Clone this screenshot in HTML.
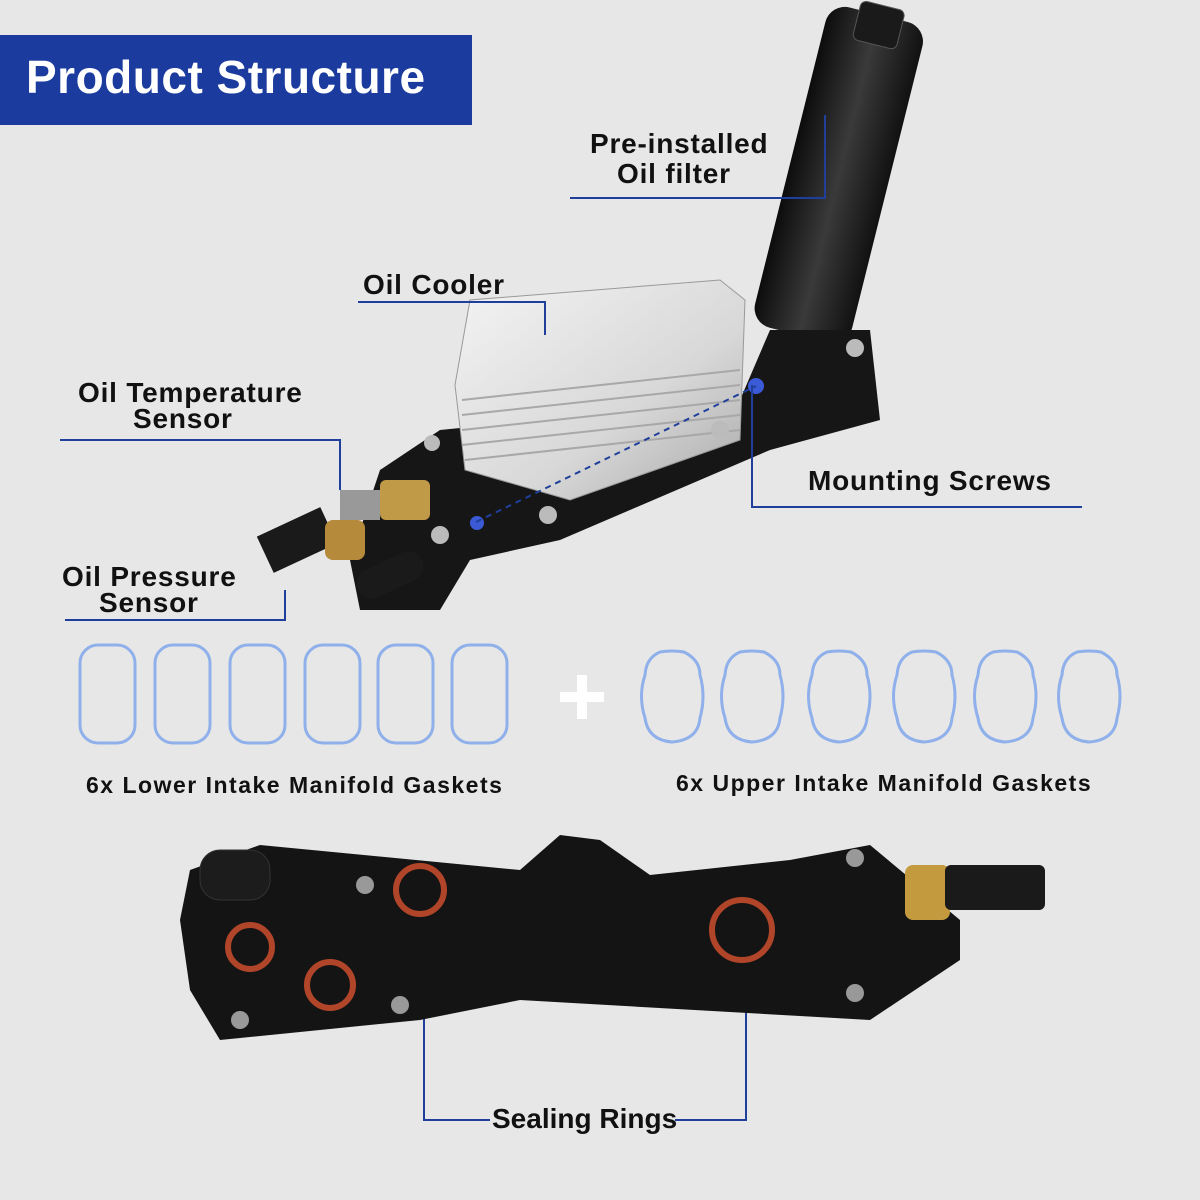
<!DOCTYPE html>
<html><head><meta charset="utf-8"><style>
html,body{margin:0;padding:0;}
body{width:1200px;height:1200px;background:#e6e6e6;overflow:hidden;position:relative;font-family:"Liberation Sans",Arial,sans-serif;}
svg{position:absolute;left:0;top:0;}
</style></head><body>
<svg width="1200" height="1200" viewBox="0 0 1200 1200">
<defs>
<linearGradient id="cyl" x1="0" x2="1" y1="0" y2="0">
<stop offset="0" stop-color="#0c0c0c"/><stop offset="0.5" stop-color="#3a3a3a"/><stop offset="1" stop-color="#111"/></linearGradient>
<linearGradient id="alu" x1="0" x2="1" y1="0" y2="1">
<stop offset="0" stop-color="#f4f4f4"/><stop offset="0.6" stop-color="#d8d8d8"/><stop offset="1" stop-color="#a8a8a8"/></linearGradient>
</defs>
<rect width="1200" height="1200" fill="#e7e7e7"/>
<rect x="0" y="35" width="472" height="90" fill="#1b3b9e"/>
<text x="26" y="93" font-size="46" font-weight="bold" fill="#fff" letter-spacing="0.5" font-family="Liberation Sans,sans-serif">Product Structure</text>

<g transform="rotate(14 840 170)">
<rect x="790" y="10" width="100" height="330" rx="20" fill="url(#cyl)"/>
<rect x="820" y="0" width="45" height="40" rx="6" fill="#1a1a1a" stroke="#555"/>
</g>
<path d="M380 470 L440 430 L740 400 L770 330 L870 330 L880 420 L770 450 L560 540 L470 560 L440 610 L360 610 L350 560 Z" fill="#161616"/>
<path d="M455 385 L470 300 L720 280 L745 300 L740 440 L570 500 L465 470 Z" fill="url(#alu)" stroke="#999"/>
<g stroke="#a8a8a8" stroke-width="2">
<line x1="462" y1="400" x2="740" y2="370"/><line x1="462" y1="415" x2="740" y2="385"/><line x1="462" y1="430" x2="740" y2="400"/><line x1="462" y1="445" x2="740" y2="415"/><line x1="465" y1="460" x2="740" y2="430"/></g>
<rect x="262" y="520" width="70" height="40" fill="#1a1a1a" transform="rotate(-25 297 540)"/>
<rect x="325" y="520" width="40" height="40" rx="8" fill="#b58a3a"/>
<rect x="380" y="480" width="50" height="40" rx="6" fill="#c19a48"/>
<rect x="340" y="490" width="40" height="30" fill="#999"/>
<rect x="355" y="560" width="70" height="30" rx="14" fill="#1a1a1a" transform="rotate(-25 390 575)"/>
<g fill="#bbb"><circle cx="548" cy="515" r="9"/><circle cx="720" cy="430" r="9"/><circle cx="855" cy="348" r="9"/><circle cx="432" cy="443" r="8"/><circle cx="440" cy="535" r="9"/></g>
<circle cx="756" cy="386" r="8" fill="#3b5ad6"/><circle cx="477" cy="523" r="7" fill="#3b5ad6"/>

<g stroke="#1f3f9a" stroke-width="2" fill="none">
<polyline points="570,198 825,198 825,115"/>
<polyline points="358,302 545,302 545,335"/>
<polyline points="60,440 340,440 340,490"/>
<polyline points="752,385 752,507 1082,507"/>
<polyline points="65,620 285,620 285,590"/>
<polyline points="424,880 424,1120 490,1120"/>
<polyline points="675,1120 746,1120 746,930"/>
</g>
<line x1="476" y1="522" x2="756" y2="386" stroke="#1f3f9a" stroke-width="2" stroke-dasharray="6,5"/>

<g font-size="28" font-weight="bold" fill="#111" letter-spacing="0.8" font-family="Liberation Sans,sans-serif">
<text x="590" y="153">Pre-installed</text><text x="617" y="183">Oil filter</text>
<text x="363" y="294">Oil Cooler</text>
<text x="78" y="402">Oil Temperature</text><text x="133" y="428">Sensor</text>
<text x="808" y="490">Mounting Screws</text>
<text x="62" y="586">Oil Pressure</text><text x="99" y="612">Sensor</text>
<text x="492" y="1128" letter-spacing="0">Sealing Rings</text>
</g>
<g font-size="23" font-weight="bold" fill="#111" letter-spacing="1.5" font-family="Liberation Sans,sans-serif">
<text x="86" y="793">6x Lower Intake Manifold Gaskets</text>
<text x="676" y="791">6x Upper Intake Manifold Gaskets</text>
</g>

<g fill="none" stroke="#8fb0ea" stroke-width="3">
<rect x="80" y="645" width="55" height="98" rx="18"/>
<rect x="155" y="645" width="55" height="98" rx="18"/>
<rect x="230" y="645" width="55" height="98" rx="18"/>
<rect x="305" y="645" width="55" height="98" rx="18"/>
<rect x="378" y="645" width="55" height="98" rx="18"/>
<rect x="452" y="645" width="55" height="98" rx="18"/>
<g id="ug"><path d="M660 652 Q672 650 684 652 Q700 660 700 675 Q706 696 700 718 Q698 740 672 742 Q648 740 645 718 Q638 696 645 675 Q646 658 660 652 Z"/></g>
<use href="#ug" x="80"/><use href="#ug" x="167"/><use href="#ug" x="252"/><use href="#ug" x="333"/><use href="#ug" x="417"/>
</g>
<g stroke="#fff" stroke-width="10"><line x1="560" y1="697" x2="604" y2="697"/><line x1="582" y1="675" x2="582" y2="719"/></g>

<path d="M190 870 L260 845 L520 870 L560 835 L600 840 L650 875 L790 860 L870 845 L900 870 L960 920 L960 960 L900 1000 L870 1020 L520 1000 L420 1020 L220 1040 L190 990 L180 920 Z" fill="#141414"/>
<rect x="200" y="850" width="70" height="50" rx="20" fill="#1c1c1c" stroke="#333"/>
<rect x="905" y="865" width="45" height="55" rx="8" fill="#c39a3e"/>
<rect x="945" y="865" width="100" height="45" rx="6" fill="#1a1a1a"/>
<g fill="none" stroke="#b0452a" stroke-width="6">
<circle cx="420" cy="890" r="24"/><circle cx="250" cy="947" r="22"/><circle cx="330" cy="985" r="23"/><circle cx="742" cy="930" r="30"/></g>
<g fill="#999"><circle cx="365" cy="885" r="9"/><circle cx="240" cy="1020" r="9"/><circle cx="400" cy="1005" r="9"/><circle cx="855" cy="858" r="9"/><circle cx="855" cy="993" r="9"/></g>
</svg>
</body></html>
